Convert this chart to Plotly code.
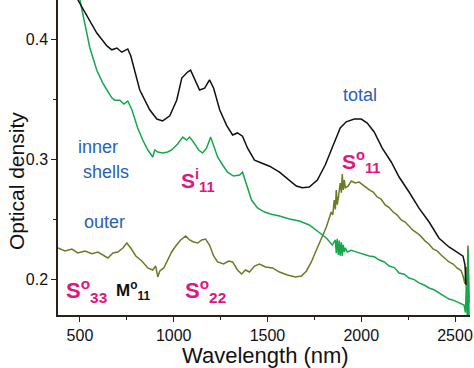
import plotly.graph_objects as go

# ---- data ----
total_nm = [489, 590, 644, 670, 697, 723, 755, 771, 819, 872, 910, 941, 979, 1016, 1043, 1074, 1090,
            1112, 1138, 1165, 1191, 1213, 1245, 1282, 1314, 1340, 1367, 1394, 1431, 1468, 1511, 1564,
            1617, 1654, 1686, 1723, 1766, 1808, 1851, 1888, 1920, 1963, 2000, 2032, 2069, 2112, 2160,
            2202, 2255, 2308, 2362, 2415, 2468, 2511, 2543, 2553, 2559]
total_od = [0.4325, 0.405, 0.3942, 0.391, 0.3925, 0.389, 0.3917, 0.386, 0.3575, 0.341, 0.3333, 0.3317,
            0.336, 0.349, 0.3675, 0.3725, 0.374, 0.366, 0.3575, 0.359, 0.366, 0.359, 0.341, 0.328, 0.32,
            0.3217, 0.319, 0.309, 0.299, 0.2967, 0.294, 0.289, 0.2825, 0.2775, 0.276, 0.2767, 0.2825,
            0.295, 0.3117, 0.3258, 0.331, 0.3333, 0.3333, 0.33, 0.3225, 0.309, 0.2975, 0.285, 0.2725,
            0.259, 0.2475, 0.234, 0.2267, 0.2225, 0.219, 0.2117, 0.195]

inner_nm = [500, 527, 553, 590, 622, 644, 670, 686, 713, 734, 755, 777, 808, 835, 862, 888, 899, 915,
            941, 968, 989, 1021, 1048, 1069, 1085, 1106, 1133, 1154, 1175, 1197, 1213, 1234, 1261, 1287,
            1319, 1351, 1367, 1388, 1415, 1447, 1484, 1521, 1564, 1617, 1670, 1723, 1777, 1814, 1846,
            1862, 1867, 1872, 1878, 1883, 1888, 1894, 1899, 1904, 1910, 1915, 1926, 1947, 1968, 1989,
            2016, 2043, 2070, 2096, 2123, 2149, 2176, 2202, 2229, 2255, 2282, 2308, 2335, 2362, 2388,
            2415, 2441, 2468, 2494, 2521, 2548, 2556, 2562, 2566, 2570, 2575]
inner_od = [0.4325, 0.4117, 0.3925, 0.374, 0.3633, 0.3575, 0.351, 0.349, 0.349, 0.3458, 0.3483, 0.341,
            0.3258, 0.3158, 0.3075, 0.3017, 0.3075, 0.3058, 0.305, 0.3058, 0.3075, 0.3125, 0.3183,
            0.3158, 0.3183, 0.314, 0.3075, 0.305, 0.309, 0.3183, 0.3117, 0.3017, 0.295, 0.289, 0.2858,
            0.2867, 0.289, 0.2783, 0.2658, 0.2592, 0.2558, 0.254, 0.2525, 0.25, 0.2483, 0.245, 0.2383,
            0.2342, 0.2283, 0.2325, 0.2215, 0.2335, 0.22, 0.232, 0.2195, 0.2305, 0.2192, 0.2285, 0.2225,
            0.226, 0.2225, 0.224, 0.2228, 0.2217, 0.2205, 0.2192, 0.2185, 0.2158, 0.2142, 0.2108,
            0.2095, 0.205, 0.204, 0.2008, 0.1995, 0.1967, 0.195, 0.1925, 0.191, 0.1883, 0.1858, 0.1833,
            0.1822, 0.18, 0.1783, 0.172, 0.205, 0.16, 0.225, 0.17]

outer_nm = [383, 420, 457, 489, 527, 564, 596, 622, 649, 676, 702, 729, 750, 771, 798, 830, 862, 888,
            904, 915, 926, 947, 968, 989, 1011, 1037, 1064, 1085, 1106, 1128, 1149, 1170, 1191, 1213,
            1234, 1266, 1293, 1314, 1340, 1362, 1383, 1404, 1431, 1457, 1489, 1527, 1564, 1606, 1649,
            1681, 1708, 1734, 1761, 1787, 1814, 1840, 1848, 1856, 1862, 1867, 1872, 1878, 1883, 1888,
            1894, 1899, 1904, 1910, 1915, 1931, 1947, 1968, 1989, 2016, 2043, 2064, 2085, 2106, 2128,
            2149, 2170, 2191, 2213, 2234, 2255, 2277, 2298, 2319, 2340, 2362, 2383, 2404, 2426, 2447,
            2468, 2490, 2511, 2532, 2543, 2553, 2559, 2564, 2569, 2575]
outer_od = [0.2258, 0.2233, 0.225, 0.2217, 0.2233, 0.221, 0.2225, 0.22, 0.2175, 0.2217, 0.2225, 0.2258,
            0.23, 0.2258, 0.2192, 0.215, 0.2092, 0.2075, 0.2108, 0.2017, 0.2067, 0.2092, 0.2158, 0.2225,
            0.2275, 0.2325, 0.2358, 0.2325, 0.2308, 0.23, 0.2325, 0.2333, 0.2283, 0.2192, 0.2142,
            0.2125, 0.215, 0.2142, 0.2075, 0.2042, 0.2075, 0.2058, 0.2108, 0.2125, 0.21, 0.2092, 0.2058,
            0.2033, 0.2017, 0.2025, 0.2067, 0.2142, 0.2242, 0.2342, 0.2433, 0.2558, 0.2535, 0.2658,
            0.258, 0.2742, 0.262, 0.2675, 0.276, 0.28, 0.272, 0.2875, 0.2742, 0.2825, 0.276, 0.2775,
            0.2817, 0.28, 0.2808, 0.2775, 0.2742, 0.2725, 0.2683, 0.2665, 0.2617, 0.2595, 0.2558,
            0.2535, 0.2492, 0.2475, 0.2442, 0.2405, 0.2383, 0.2355, 0.2317, 0.229, 0.225, 0.2235, 0.22,
            0.217, 0.2142, 0.2125, 0.2092, 0.207, 0.2025, 0.196, 0.21, 0.185, 0.228, 0.18]

x_ticks = [500, 1000, 1500, 2000, 2500]
y_ticks = [0.2, 0.3, 0.4]

BLACK = "#111111"
GREEN = "#14a84b"
OLIVE = "#6c7a25"
BLUE = "#2a5fb5"
MAGENTA = "#e0157f"
AXIS = "#2a2018"

fig = go.Figure()
fig.add_trace(go.Scatter(x=outer_nm, y=outer_od, mode="lines", line=dict(color=OLIVE, width=1.5)))
fig.add_trace(go.Scatter(x=inner_nm, y=inner_od, mode="lines", line=dict(color=GREEN, width=1.5)))
fig.add_trace(go.Scatter(x=total_nm, y=total_od, mode="lines", line=dict(color=BLACK, width=1.5)))

W, H = 474, 368
L, R, T, B = 58, 4, 0, 53
pw, ph = W - L - R, H - T - B

def px(x):
    return (x - L) / pw

def py(y):
    return (H - B - y) / ph

ann = []
def add(text, x, y, size, color, bold=False, angle=0):
    ann.append(dict(text=f"<b>{text}</b>" if bold else text, x=px(x), y=py(y), xref="paper", yref="paper",
                    showarrow=False, xanchor="center", yanchor="middle", textangle=angle,
                    font=dict(size=size, color=color, family="Liberation Sans, Arial, sans-serif")))

add("total", 360, 95, 18, BLUE)
add("inner", 98, 147, 18, BLUE)
add("shells", 106, 172, 18, BLUE)
add("outer", 104, 222, 18, BLUE)
add("S<sup>o</sup><sub>11</sub>", 361, 162, 21, MAGENTA, bold=True)
add("S<sup>i</sup><sub>11</sub>", 198, 180, 21, MAGENTA, bold=True)
add("S<sup>o</sup><sub>33</sub>", 86, 290, 22, MAGENTA, bold=True)
add("M<sup>o</sup><sub>11</sub>", 133, 290, 17, "#111111", bold=True)
add("S<sup>o</sup><sub>22</sub>", 205, 290, 22, MAGENTA, bold=True)
add("Wavelength (nm)", 265, 355, 22, "#111111")
add("Optical density", 16, 181, 21, "#111111", angle=-90)

fig.update_layout(
    width=W, height=H, margin=dict(l=L, r=R, t=T, b=B),
    paper_bgcolor="white", plot_bgcolor="white", showlegend=False,
    font=dict(family="Liberation Sans, Arial, sans-serif", size=16, color="#111111"),
    annotations=ann,
    xaxis=dict(range=[383, 2580], tickvals=x_ticks, ticktext=[str(v) for v in x_ticks],
               ticks="outside", ticklen=5, tickwidth=1.2, tickcolor=AXIS,
               minor=dict(tickvals=[750, 1250, 1750, 2250], ticks="outside", ticklen=3, tickcolor=AXIS),
               showline=True, linecolor=AXIS, linewidth=1.5, showgrid=False, zeroline=False,
               tickfont=dict(size=16)),
    yaxis=dict(range=[0.17, 0.4325], tickvals=y_ticks, ticktext=["0.2", "0.3", "0.4"],
               ticks="outside", ticklen=5, tickwidth=1.2, tickcolor=AXIS,
               minor=dict(tickvals=[0.25, 0.35], ticks="outside", ticklen=3, tickcolor=AXIS),
               showline=True, linecolor=AXIS, linewidth=1.5, showgrid=False, zeroline=False,
               tickfont=dict(size=16)),
)

fig.write_html("out.html", config={"displayModeBar": False},
               post_script="document.body.style.margin='0';")
